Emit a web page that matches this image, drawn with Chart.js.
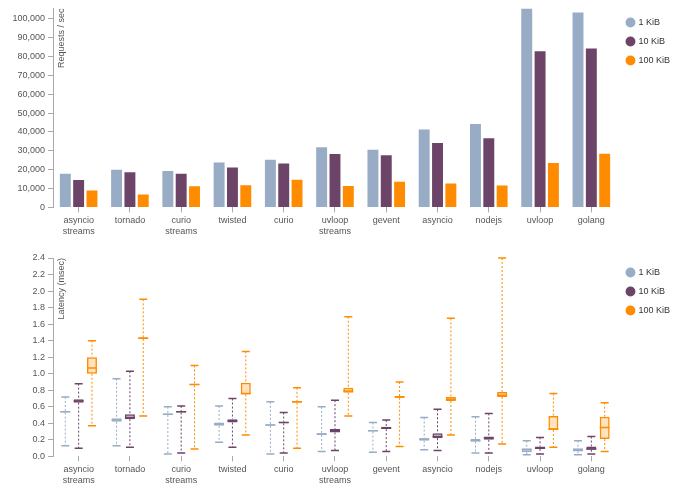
<!DOCTYPE html>
<html>
<head>
<meta charset="utf-8">
<script src="https://cdn.jsdelivr.net/npm/chart.js@4"></script>
<style>
  body { margin: 0; background: #fff; font-family: "Liberation Sans", Arial, sans-serif; }
  .wrap { position: absolute; left: 0; width: 690px; }
  #top { top: 0; height: 240px; }
  #bottom { top: 248px; height: 241px; }
</style>
</head>
<body>
<div class="wrap" id="top"><canvas id="rpsChart"></canvas></div>
<div class="wrap" id="bottom"><canvas id="latChart"></canvas></div>
<script>
const categories = [['asyncio', 'streams'], 'tornado', ['curio', 'streams'], 'twisted', 'curio',
  ['uvloop', 'streams'], 'gevent', 'asyncio', 'nodejs', 'uvloop', 'golang'];
const seriesNames = ['1 KiB', '10 KiB', '100 KiB'];
const seriesColors = ['#98acc6', '#6b4468', '#ff8c00'];

const rps1k = [17800, 20000, 19300, 23800, 25200, 31900, 30500, 41300, 44200, 105500, 103300];
const rps10k = [14500, 18600, 17800, 21200, 23300, 28300, 27700, 34200, 36600, 82800, 84300];
const rps100k = [9000, 6800, 11200, 11800, 14700, 11300, 13600, 12700, 11600, 23500, 28400];

// latency boxes: [min, q1, median, q3, max] in msec
const lat1k = [
  [0.13, 0.53, 0.54, 0.55, 0.72], [0.13, 0.42, 0.44, 0.46, 0.94], [0.03, 0.50, 0.51, 0.52, 0.60],
  [0.17, 0.37, 0.39, 0.41, 0.61], [0.03, 0.37, 0.38, 0.39, 0.66], [0.06, 0.26, 0.27, 0.28, 0.60],
  [0.05, 0.30, 0.31, 0.32, 0.41], [0.08, 0.19, 0.21, 0.22, 0.47], [0.04, 0.18, 0.19, 0.21, 0.48],
  [0.02, 0.05, 0.08, 0.10, 0.19], [0.02, 0.06, 0.08, 0.10, 0.19]];
const lat10k = [
  [0.10, 0.65, 0.67, 0.69, 0.88], [0.11, 0.45, 0.47, 0.51, 1.03], [0.04, 0.53, 0.54, 0.55, 0.61],
  [0.11, 0.41, 0.43, 0.45, 0.70], [0.04, 0.40, 0.41, 0.42, 0.53], [0.07, 0.29, 0.31, 0.33, 0.68],
  [0.06, 0.33, 0.34, 0.36, 0.44], [0.07, 0.22, 0.24, 0.28, 0.57], [0.04, 0.20, 0.22, 0.24, 0.52],
  [0.03, 0.09, 0.10, 0.12, 0.23], [0.03, 0.08, 0.09, 0.12, 0.24]];
const lat100k = [
  [0.37, 1.00, 1.07, 1.20, 1.40], [0.49, 1.42, 1.43, 1.44, 1.90], [0.09, 0.86, 0.87, 0.88, 1.10],
  [0.26, 0.75, 0.76, 0.89, 1.27], [0.10, 0.65, 0.66, 0.67, 0.83], [0.49, 0.77, 0.79, 0.83, 1.69],
  [0.12, 0.71, 0.72, 0.73, 0.90], [0.26, 0.67, 0.69, 0.72, 1.67], [0.15, 0.72, 0.74, 0.78, 2.40],
  [0.11, 0.32, 0.33, 0.49, 0.76], [0.06, 0.21, 0.35, 0.48, 0.65]];

const tickFont = { family: '"Liberation Sans", Arial, sans-serif', size: 9 };
const tickColor = '#555';

function hexA(hex, a) {
  const n = parseInt(hex.slice(1), 16);
  return `rgba(${n >> 16}, ${(n >> 8) & 255}, ${n & 255}, ${a})`;
}

function axisTitle(text) {
  return {
    id: 'axisTitle',
    afterDraw(chart) {
      const { ctx, chartArea } = chart;
      ctx.save();
      ctx.translate(chartArea.left + 9, chartArea.top);
      ctx.rotate(-Math.PI / 2);
      ctx.font = '9px "Liberation Sans", Arial, sans-serif';
      ctx.fillStyle = '#555';
      ctx.textAlign = 'right';
      ctx.textBaseline = 'middle';
      ctx.fillText(text, 0, 0);
      ctx.restore();
    },
  };
}

function baseScales(yOpts) {
  return {
    x: {
      grid: { display: true, drawOnChartArea: false, offset: false, tickLength: 5, color: '#aaa' },
      border: { display: false },
      ticks: { color: tickColor, font: tickFont, maxRotation: 0, autoSkip: false },
    },
    y: Object.assign({
      beginAtZero: true,
      afterFit: (s) => { s.width = 48; },
      grid: { display: true, drawOnChartArea: false, tickLength: 5, color: '#aaa' },
      border: { display: true, color: '#aaa' },
    }, yOpts),
  };
}

const legendOpts = {
  position: 'right',
  align: 'start',
  labels: {
    usePointStyle: true, pointStyle: 'circle', boxWidth: 7, boxHeight: 7, padding: 10,
    color: '#333', font: { family: '"Liberation Sans", Arial, sans-serif', size: 9 },
    generateLabels: (chart) => chart.data.datasets.map((ds, i) => ({
      text: ds.label, fillStyle: seriesColors[i], strokeStyle: seriesColors[i],
      lineWidth: 0, pointStyle: 'circle', datasetIndex: i, fontColor: '#333',
    })),
  },
};

new Chart(document.getElementById('rpsChart'), {
  type: 'bar',
  data: {
    labels: categories,
    datasets: [rps1k, rps10k, rps100k].map((d, i) => ({
      label: seriesNames[i],
      data: d,
      backgroundColor: seriesColors[i],
      categoryPercentage: 0.78,
      barPercentage: 0.82,
    })),
  },
  options: {
    responsive: true,
    maintainAspectRatio: false,
    animation: false,
    layout: { padding: { top: 8, right: 10, left: 5 } },
    plugins: { legend: legendOpts, tooltip: { enabled: false } },
    scales: baseScales({
      max: 105500,
      afterBuildTicks: (s) => { s.ticks = s.ticks.filter((t) => t.value % 10000 === 0); },
      ticks: {
        stepSize: 10000, color: tickColor, font: tickFont,
        callback: (v) => v.toLocaleString('en-US'),
      },
    }),
  },
  plugins: [axisTitle('Requests / sec')],
});

// boxes are floating bars [q1, q3]; whiskers and medians are drawn by the plugin
const boxPlugin = {
  id: 'boxWhiskers',
  afterDatasetsDraw(chart) {
    const { ctx } = chart;
    const y = chart.scales.y;
    chart.data.datasets.forEach((ds, di) => {
      const meta = chart.getDatasetMeta(di);
      meta.data.forEach((bar, i) => {
        const [mn, q1, med, q3, mx] = ds.stats[i];
        const x = bar.x;
        const half = bar.width / 2;
        ctx.save();
        ctx.strokeStyle = ds.borderColor;
        ctx.lineWidth = 1;
        ctx.setLineDash([2, 2]);
        ctx.beginPath();
        ctx.moveTo(x, y.getPixelForValue(mx));
        ctx.lineTo(x, y.getPixelForValue(q3));
        ctx.moveTo(x, y.getPixelForValue(q1));
        ctx.lineTo(x, y.getPixelForValue(mn));
        ctx.stroke();
        ctx.setLineDash([]);
        ctx.lineWidth = 1.5;
        ctx.beginPath();
        [mn, mx].forEach((v) => {
          const py = y.getPixelForValue(v);
          ctx.moveTo(x - half * 0.8, py);
          ctx.lineTo(x + half * 0.8, py);
        });
        const pm = y.getPixelForValue(med);
        ctx.moveTo(x - half, pm);
        ctx.lineTo(x + half, pm);
        ctx.stroke();
        ctx.restore();
      });
    });
  },
};

new Chart(document.getElementById('latChart'), {
  type: 'bar',
  data: {
    labels: categories,
    datasets: [lat1k, lat10k, lat100k].map((d, i) => ({
      label: seriesNames[i],
      data: d.map((s) => [s[1], s[3]]),
      stats: d,
      backgroundColor: hexA(seriesColors[i], 0.25),
      borderColor: seriesColors[i],
      borderWidth: 1.5,
      borderSkipped: false,
      categoryPercentage: 0.78,
      barPercentage: 0.75,
    })),
  },
  options: {
    responsive: true,
    maintainAspectRatio: false,
    animation: false,
    layout: { padding: { top: 10, right: 10, left: 5 } },
    plugins: { legend: legendOpts, tooltip: { enabled: false } },
    scales: baseScales({
      min: 0, max: 2.4,
      ticks: { stepSize: 0.2, color: tickColor, font: tickFont, callback: (v) => Number(v).toFixed(1) },
    }),
  },
  plugins: [axisTitle('Latency (msec)'), boxPlugin],
});
</script>
</body>
</html>
